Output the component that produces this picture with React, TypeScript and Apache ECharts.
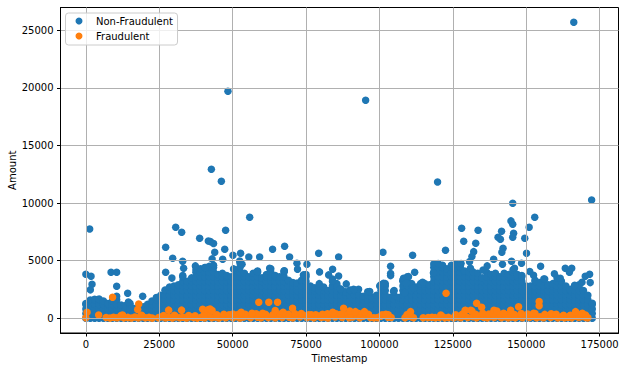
import React, { useEffect, useRef } from "react";
import * as echarts from "echarts";

const BLUE = "#1f77b4";
const ORANGE = "#ff7f0e";

const xTicks = [0, 25000, 50000, 75000, 100000, 125000, 150000, 175000];
const yTicks = [0, 5000, 10000, 15000, 20000, 25000];

// Solid part of the cloud: upper edge, column by column (Timestamp, top Amount)
const massColumns: [number, number][] = [
  [0, 1280], [1500, 1580], [3000, 1650], [4500, 1670], [6000, 1500], [7500, 1280], [9000, 1500], [10500, 1900],
  [12000, 1150], [13500, 1100], [15000, 1300], [16500, 850], [18000, 850], [19500, 1000], [21000, 1200], [22500, 1500],
  [24000, 1800], [25500, 2000], [27000, 2450], [28500, 2700], [30000, 2800], [31500, 2900], [33000, 3700], [34500, 3200],
  [36000, 3500], [37500, 4200], [39000, 4300], [40500, 4400], [42000, 4500], [43500, 4600], [45000, 3800], [46500, 3900],
  [48000, 3700], [49500, 3600], [51000, 4200], [52500, 4800], [54000, 3900], [55500, 3600], [57000, 3900], [58500, 4100],
  [60000, 3500], [61500, 3800], [63000, 4300], [64500, 3700], [66000, 3600], [67500, 4100], [69000, 3300], [70500, 3100],
  [72000, 3050], [73500, 3300], [75000, 3800], [76500, 2800], [78000, 2650], [79500, 3000], [81000, 2700], [82500, 2400],
  [84000, 3400], [85500, 3000], [87000, 2500], [88500, 2300], [90000, 2450], [91500, 2450], [93000, 2000], [94500, 1900],
  [96000, 2300], [97500, 1800], [99000, 2000], [100500, 2900], [102000, 3000], [103500, 1800], [105000, 2400], [106500, 1800],
  [108000, 3300], [109500, 3600], [111000, 3000], [112500, 2700], [114000, 3000], [115500, 3000], [117000, 2900], [118500, 4700],
  [120000, 4750], [121500, 4600], [123000, 4300], [124500, 4600], [126000, 4700], [127500, 4500], [129000, 4100], [130500, 4000],
  [132000, 4000], [133500, 3900], [135000, 3500], [136500, 4000], [138000, 3800], [139500, 3900], [141000, 3600], [142500, 3900],
  [144000, 3800], [145500, 4200], [147000, 3800], [148500, 3700], [150000, 2800], [151500, 2800], [153000, 3300], [154500, 3100],
  [156000, 3400], [157500, 2900], [159000, 3000], [160500, 3500], [162000, 3200], [163500, 2800], [165000, 2500], [166500, 2800],
  [168000, 2900], [169500, 2400], [171000, 2000], [172500, 1300],
];
const massLevels = [0, 400, 800, 1200, 1600, 2000, 2400, 2800, 3200, 3600, 4000, 4400];

// Separate non-fraudulent points
const blueOutliers: [number, number][] = [
  [166198, 25691], [48400, 19700], [95300, 18920], [42750, 12930], [46150, 11890], [119800, 11830], [172280, 10270],
  [145400, 9980], [144800, 8450], [145400, 8160], [152900, 8770], [151000, 7900], [141600, 7550], [145700, 7380],
  [145400, 7030], [140400, 7030], [141200, 6860], [149500, 6940], [150100, 5640], [142100, 6080], [141700, 5730],
  [138900, 5120], [145000, 4950], [141900, 4690], [148400, 4770], [154900, 4510], [146000, 4340], [163300, 4340],
  [165500, 4340], [164700, 3990], [159600, 3850], [161600, 3470], [171600, 3820], [170100, 3640], [171800, 3090],
  [169000, 3120], [166500, 2860], [151200, 4050], [152500, 3730], [156300, 3410], [135300, 4190], [136700, 4540],
  [1300, 7750], [0, 3820], [1770, 3640], [2100, 2950], [1530, 2460], [8580, 3990], [10500, 3990], [10500, 2780],
  [14240, 2170], [19350, 1910], [14500, 1410], [30600, 7900], [32630, 7470], [38760, 6940], [41720, 6710], [27180, 6160],
  [29570, 5200], [32970, 4950], [27180, 3990], [29300, 3480], [37300, 4540], [40700, 4400], [33300, 4340],
  [55800, 8770], [47600, 7640], [42400, 6650], [43500, 6480], [43900, 5730], [47300, 5990], [43000, 5150], [46600, 5120],
  [50100, 5470], [52700, 5640], [55500, 5320], [59200, 5320], [63600, 5990], [67700, 6250], [69400, 5320], [79300, 5640],
  [86100, 5320], [52400, 4970], [53200, 4690], [50300, 4280], [71900, 4770], [72100, 4250], [75300, 4690], [79600, 4020],
  [82700, 3760], [84050, 4250], [86100, 3670], [84050, 3240], [88700, 2980], [86700, 2540], [62600, 4340], [58400, 4050],
  [67600, 4110], [74100, 3760], [101200, 5730], [111300, 5470], [103800, 4510], [103800, 3700], [103800, 3880],
  [112000, 3990], [101400, 3040], [100100, 2800], [108200, 3470], [109900, 3610], [109200, 3040], [114700, 3120],
  [104800, 2310], [111700, 2600], [108600, 2220], [96700, 2310], [92900, 2520], [91200, 2520], [128000, 7810],
  [128700, 6680], [133600, 7640], [132800, 6510], [122500, 5900], [132100, 5780], [131500, 5350], [130700, 4910],
  [127800, 4740], [131000, 4340], [118400, 3930],
];

// Fraudulent points standing above the band
const fraudRaised: [number, number][] = [
  [400, 520], [4360, 280], [9100, 1820], [18000, 1240], [17650, 750], [28200, 700], [32600, 700], [39800, 780],
  [41500, 720], [42300, 800], [12000, 230], [18800, 230], [58900, 1390], [62300, 1390], [65300, 1390], [43000, 660],
  [70400, 870], [64500, 660], [67200, 520], [52900, 520], [56600, 430], [60200, 430], [50100, 370], [84100, 520],
  [87800, 870], [76800, 290], [89900, 630], [91800, 570], [94900, 570], [102200, 350], [110600, 570], [122700, 2170],
  [129300, 660], [131500, 630], [133100, 1300], [134800, 950], [147400, 1000], [154400, 1440], [154400, 1090],
  [144700, 690], [129200, 690], [131100, 690], [139000, 690], [140000, 630], [166800, 570], [169100, 430], [152500, 430],
  [142300, 430],
];
// Low band of fraudulent points
const fraudLow: [number, number][] = [
  [0, 30], [6900, 60], [8200, 20], [9400, 90], [10600, 40], [11800, 120], [13000, 30], [14300, 70], [15500, 20],
  [16700, 100], [17900, 30], [19100, 120], [20300, 40], [21500, 70], [22600, 10], [24700, 50], [25900, 120], [27100, 30],
  [28300, 90], [29500, 20], [30700, 130], [31900, 40], [33100, 80], [34300, 20], [35500, 120], [36700, 60], [37900, 10],
  [39300, 90], [40500, 30], [41700, 160], [42900, 40], [44100, 100], [45300, 20], [46500, 130], [47700, 50], [48900, 200],
  [50100, 40], [51300, 140], [52500, 20], [53700, 110], [54900, 200], [56100, 50], [57300, 240], [58500, 90], [59700, 30],
  [60900, 220], [62100, 60], [63300, 150], [64500, 30], [65700, 190], [66900, 70], [68100, 320], [69300, 90], [70500, 30],
  [71700, 230], [72900, 100], [74100, 260], [75300, 60], [76500, 130], [77700, 30], [78900, 190], [80100, 60], [81300, 110],
  [82500, 20], [83700, 270], [84900, 100], [86100, 230], [87300, 60], [88500, 290], [89700, 40], [90900, 110], [92100, 240],
  [93300, 30], [94500, 180], [95700, 270], [96900, 60], [98100, 30], [99300, 50], [100500, 170], [101700, 250], [102900, 90],
  [104000, 60], [108700, 50], [109700, 170], [110900, 120], [111600, 40], [114900, 40], [116600, 60], [117900, 90],
  [119000, 50], [120400, 60], [121300, 170], [122300, 30], [123500, 70], [125300, 40], [126500, 120], [127700, 50],
  [128900, 170], [130100, 60], [131900, 120], [133100, 30], [134300, 170], [135500, 80], [136700, 30], [137900, 140],
  [139100, 60], [140300, 220], [141500, 40], [142700, 130], [143900, 30], [145100, 110], [146300, 40], [147500, 170],
  [148700, 40], [149900, 230], [151100, 70], [152300, 180], [153500, 40], [154700, 130], [155900, 40], [157100, 220],
  [158300, 70], [159500, 180], [160700, 30], [161900, 110], [163100, 40], [164300, 90], [165500, 30], [166700, 170],
  [167900, 60], [169100, 150], [170300, 70], [171000, 30],
];
// Upper rim of the band
const fraudRim: [number, number][] = [
  [12500, 280], [19000, 250], [26500, 230], [30200, 260], [35000, 240], [37200, 210], [40300, 300], [44600, 290],
  [47000, 340], [48800, 300], [51800, 320], [54300, 350], [58000, 380], [61200, 340], [63700, 300], [66300, 360],
  [69000, 340], [71200, 390], [73400, 410], [75900, 300], [78300, 290], [80600, 340], [82300, 380], [85200, 390],
  [86900, 350], [90300, 320], [93000, 400], [96300, 330], [100900, 300], [103000, 290], [109400, 310], [120900, 280],
  [126000, 300], [128200, 350], [132800, 330], [135200, 430], [137300, 360], [138800, 400], [141000, 340], [143400, 290],
  [146000, 320], [148300, 400], [150500, 370], [153000, 400], [156300, 330], [158500, 380], [160200, 340], [162700, 260],
  [165000, 260], [168300, 320], [170200, 280],
];

const massPoints: [number, number][] = massColumns.flatMap(([x, top]) => [
  ...massLevels.filter((l) => l < top).map((l): [number, number] => [x, l]),
  [x, top] as [number, number],
]);
const nonFraud = [...massPoints, ...blueOutliers];
const fraud = [...fraudLow, ...fraudRim, ...fraudRaised];

const FONT = "DejaVu Sans";

export default function App() {
  const ref = useRef<HTMLDivElement>(null);
  useEffect(() => {
    if (!ref.current) return;
    const chart = echarts.init(ref.current, undefined, { renderer: "svg" });
    const axisCommon = {
      type: "value" as const,
      z: 4,
      nameLocation: "middle" as const,
      nameMoveOverlap: false,
      nameTextStyle: { color: "#000", fontFamily: FONT, fontSize: 10 },
      axisLine: { show: true, onZero: false, lineStyle: { color: "#000", width: 1 } },
      axisTick: { show: true, length: 3.5, lineStyle: { color: "#000", width: 1 } },
      splitLine: { show: true, lineStyle: { color: "#b0b0b0", width: 1 } },
    };
    chart.setOption({
      animation: false,
      backgroundColor: "#fff",
      grid: {
        left: 60.5,
        right: 5.5,
        top: 7.5,
        bottom: 38,
        containLabel: false,
        outerBoundsMode: "none",
        show: true,
        borderColor: "#000",
        borderWidth: 1,
        backgroundColor: "transparent",
      },
      xAxis: {
        ...axisCommon,
        name: "Timestamp",
        nameGap: 20,
        min: -8640,
        max: 181432,
        axisTick: { ...axisCommon.axisTick, customValues: xTicks },
        axisLabel: { customValues: xTicks, color: "#000", fontFamily: FONT, fontSize: 10, margin: 6, formatter: (v: number) => String(v) },
      },
      yAxis: {
        ...axisCommon,
        name: "Amount",
        nameGap: 43,
        min: -1284.5,
        max: 26975.7,
        axisTick: { ...axisCommon.axisTick, customValues: yTicks },
        axisLabel: { customValues: yTicks, color: "#000", fontFamily: FONT, fontSize: 10, margin: 7, formatter: (v: number) => String(v) },
      },
      legend: {
        left: 65.5,
        top: 13,
        z: 6,
        orient: "vertical",
        icon: "circle",
        itemWidth: 7,
        itemHeight: 7,
        itemGap: 5,
        padding: [3, 4.5, 4, 10],
        backgroundColor: "rgba(255,255,255,0.8)",
        borderColor: "#cccccc",
        borderWidth: 1,
        borderRadius: 3,
        textStyle: { color: "#000", fontFamily: FONT, fontSize: 10, padding: [0, 0, 0, 8.5] },
        data: ["Non-Fraudulent", "Fraudulent"],
      },
      series: [
        { name: "Non-Fraudulent", type: "scatter", symbolSize: 7.5, data: nonFraud, itemStyle: { color: BLUE, opacity: 1 }, z: 2 },
        { name: "Fraudulent", type: "scatter", symbolSize: 7.5, data: fraud, itemStyle: { color: ORANGE, opacity: 1 }, z: 3 },
      ],
    });
    return () => chart.dispose();
  }, []);
  return <div ref={ref} style={{ position: "fixed", left: 0, top: 0, width: 624, height: 371 }} />;
}
